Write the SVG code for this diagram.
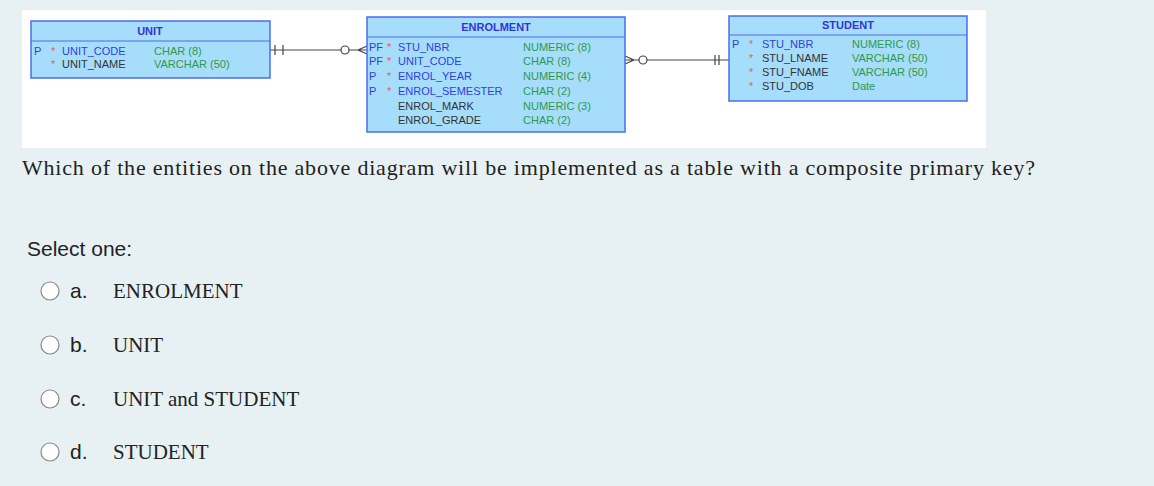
<svg xmlns="http://www.w3.org/2000/svg" width="1154" height="486" viewBox="0 0 1154 486">
<style>
.box{fill:#a6ddfb;stroke:#4b6cf0;stroke-width:1.5}
.hl{stroke:#4b6cf0;stroke-width:1.2}
.t{font-family:"Liberation Sans",sans-serif;font-size:11px}
.h{font-weight:bold;fill:#3333dd;text-anchor:middle}
.k{fill:#2f3fe0}
.n{fill:#333}
.s{fill:#e06060}
.ty{fill:#2e9a4a}
.c{stroke:#444;stroke-width:1.2;fill:none}
.q{font-family:"Liberation Serif",serif;font-size:22px;fill:#222}
.o{font-family:"Liberation Serif",serif;font-size:21px;fill:#222}
.l{font-family:"Liberation Sans",sans-serif;font-size:21px;fill:#222}
.r{fill:#fff;stroke:#888;stroke-width:1.2}
</style>
<rect width="1154" height="486" fill="#e7f1f4"/>
<rect x="22" y="10" width="964" height="138" fill="#fff"/>
<g id="connectors">
<path class="c" d="M270 50H341M349 50H367M367 46L358 50L367 54M275 45V55M283 45V55"/>
<circle class="c" cx="345" cy="50" r="4"/>
<path class="c" d="M625 56L634 60L625 64M625 60H639M647 60H729M715 55V65M719 55V65"/>
<circle class="c" cx="643" cy="60" r="4"/>
</g>
<g id="unit" class="t">
<rect class="box" x="31" y="21" width="239" height="57"/>
<line class="hl" x1="31" y1="41" x2="270" y2="41"/>
<text class="h" x="150" y="35">UNIT</text>
<text class="k" x="34" y="55">P</text><text class="s" x="51" y="55">*</text><text class="k" x="62" y="55">UNIT_CODE</text><text class="ty" x="154" y="55">CHAR (8)</text>
<text class="s" x="51" y="68">*</text><text class="n" x="62" y="68">UNIT_NAME</text><text class="ty" x="154" y="68">VARCHAR (50)</text>
</g>
<g id="enrolment" class="t">
<rect class="box" x="367" y="17" width="258" height="115"/>
<line class="hl" x1="367" y1="37" x2="625" y2="37"/>
<text class="h" x="496" y="31">ENROLMENT</text>
<text class="k" x="369" y="51">PF</text><text class="s" x="387" y="51">*</text><text class="k" x="398" y="51">STU_NBR</text><text class="ty" x="523" y="51">NUMERIC (8)</text>
<text class="k" x="369" y="65">PF</text><text class="s" x="387" y="65">*</text><text class="k" x="398" y="65">UNIT_CODE</text><text class="ty" x="523" y="65">CHAR (8)</text>
<text class="k" x="369" y="80">P</text><text class="s" x="387" y="80">*</text><text class="k" x="398" y="80">ENROL_YEAR</text><text class="ty" x="523" y="80">NUMERIC (4)</text>
<text class="k" x="369" y="95">P</text><text class="s" x="387" y="95">*</text><text class="k" x="398" y="95">ENROL_SEMESTER</text><text class="ty" x="523" y="95">CHAR (2)</text>
<text class="n" x="398" y="110">ENROL_MARK</text><text class="ty" x="523" y="110">NUMERIC (3)</text>
<text class="n" x="398" y="124">ENROL_GRADE</text><text class="ty" x="523" y="124">CHAR (2)</text>
</g>
<g id="student" class="t">
<rect class="box" x="729" y="16" width="238" height="85"/>
<line class="hl" x1="729" y1="35" x2="967" y2="35"/>
<text class="h" x="848" y="29">STUDENT</text>
<text class="k" x="732" y="48">P</text><text class="s" x="749" y="48">*</text><text class="k" x="762" y="48">STU_NBR</text><text class="ty" x="852" y="48">NUMERIC (8)</text>
<text class="s" x="749" y="62">*</text><text class="n" x="762" y="62">STU_LNAME</text><text class="ty" x="852" y="62">VARCHAR (50)</text>
<text class="s" x="749" y="76">*</text><text class="n" x="762" y="76">STU_FNAME</text><text class="ty" x="852" y="76">VARCHAR (50)</text>
<text class="s" x="749" y="90">*</text><text class="n" x="762" y="90">STU_DOB</text><text class="ty" x="852" y="90">Date</text>
</g>
<text class="q" x="22" y="175" textLength="1013">Which of the entities on the above diagram will be implemented as a table with a composite primary key?</text>
<text class="l" x="27" y="256">Select one:</text>
<circle class="r" cx="50" cy="291" r="9"/><text class="l" x="70" y="298">a.</text><text class="o" x="113" y="298">ENROLMENT</text>
<circle class="r" cx="50" cy="345" r="9"/><text class="l" x="70" y="352">b.</text><text class="o" x="113" y="352">UNIT</text>
<circle class="r" cx="50" cy="399" r="9"/><text class="l" x="70" y="406">c.</text><text class="o" x="113" y="406">UNIT and STUDENT</text>
<circle class="r" cx="50" cy="452" r="9"/><text class="l" x="70" y="459">d.</text><text class="o" x="113" y="459">STUDENT</text>
</svg>
